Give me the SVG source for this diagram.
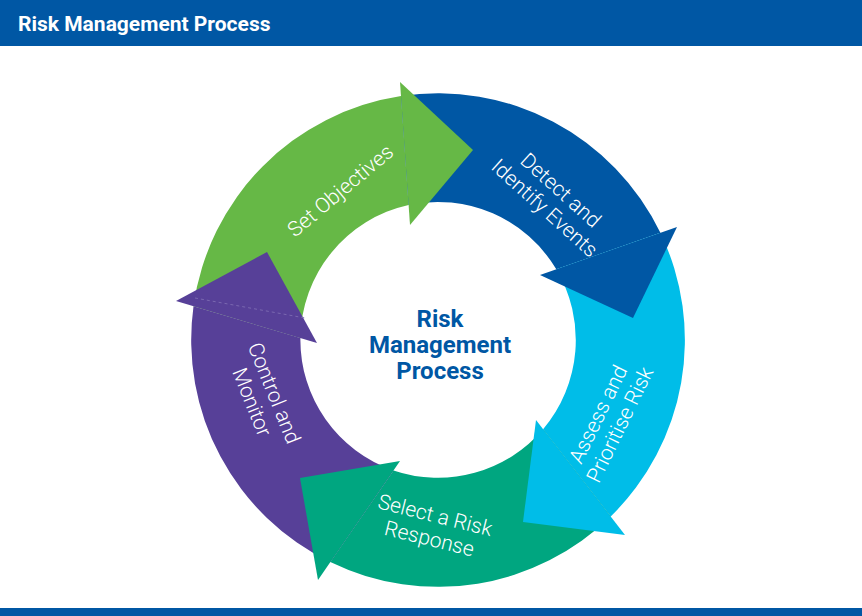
<svg xmlns="http://www.w3.org/2000/svg" width="862" height="616" viewBox="0 0 862 616">
<style>
.lbl{font-family:Roboto,"Liberation Sans",sans-serif;font-weight:300;font-size:21px;fill:#fff;text-anchor:middle}
.ctr{font-family:Roboto,"Liberation Sans",sans-serif;font-weight:700;font-size:24px;fill:#0057a4;text-anchor:middle}
</style>
<rect width="862" height="616" fill="#fff"/>
<g id="header"><rect x="0" y="0" width="862" height="46" fill="#0057a4"/>
<text x="18" y="31" font-family="Roboto,'Liberation Sans',sans-serif" font-weight="700" font-size="21" fill="#fff">Risk Management Process</text></g>
<rect x="0" y="608" width="862" height="8" fill="#0057a4"/>
<g id="connectors"></g>
<g id="set-objectives"><path fill="#66b846" d="M193.5,306.2 A247,247 0 0 1 401,96 L408.6,205 A138,138 0 0 0 300.4,338 Z"/></g>
<g id="detect"><path fill="#0057a4" d="M401,96 A247,247 0 0 1 660.4,232.8 L556.3,269.3 A138,138 0 0 0 408.6,205 Z"/></g>
<g id="assess"><path fill="#00bde8" d="M660.4,232.8 A247,247 0 0 1 610.7,516.5 L543.1,429.2 A138,138 0 0 0 556.3,269.3 Z"/></g>
<g id="select"><path fill="#00a680" d="M610.7,516.5 A247,247 0 0 1 330.3,562.1 L393.5,470.4 A138,138 0 0 0 543.1,429.2 Z"/></g>
<g id="control"><path fill="#574098" d="M330.3,562.1 A247,247 0 0 1 193.5,306.2 L300.4,338 A138,138 0 0 0 393.5,470.4 Z"/></g>
<g id="heads">
<polygon fill="#66b846" points="400,82 473,150 410,225"/>
<polygon fill="#0057a4" points="677,227 633,318 540,275"/>
<polygon fill="#00bde8" points="625,535 523,522 536,420"/>
<polygon fill="#00a680" points="318,580 300,478 400,461"/>
<polygon fill="#574098" points="176,301 267,252 317,343"/>
<line x1="195" y1="298" x2="305" y2="318" stroke="#7a68b0" stroke-width="1" stroke-dasharray="3,3"/>
</g>
<g id="labels">
<text class="lbl" transform="translate(345,196) rotate(-40)">Set Objectives</text>
<text class="lbl" transform="translate(552,200) rotate(42)"><tspan x="0" y="-6">Detect and</tspan><tspan x="0" y="18">Identify Events</tspan></text>
<text class="lbl" transform="translate(610,420) rotate(-64)"><tspan x="0" y="-6">Assess and</tspan><tspan x="0" y="18">Prioritise Risk</tspan></text>
<text class="lbl" transform="translate(432,528) rotate(14)"><tspan x="0" y="-6">Select a Risk</tspan><tspan x="0" y="18">Response</tspan></text>
<text class="lbl" transform="translate(262,398) rotate(68)"><tspan x="0" y="-6">Control and</tspan><tspan x="0" y="18">Monitor</tspan></text>
</g>
<g id="center"><text class="ctr"><tspan x="440" y="327">Risk</tspan><tspan x="440" y="353">Management</tspan><tspan x="440" y="379">Process</tspan></text></g>
</svg>
